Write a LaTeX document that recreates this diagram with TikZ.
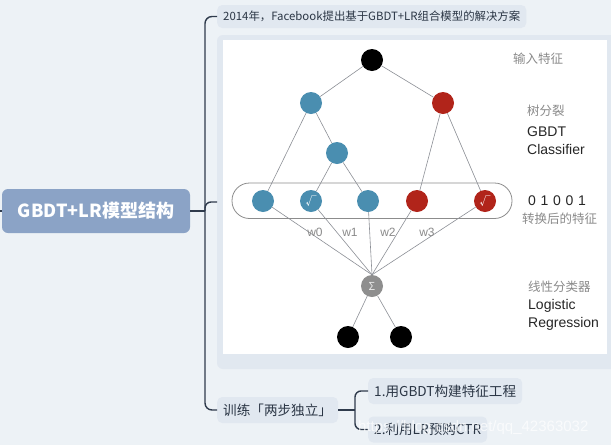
\documentclass[tikz,border=0pt]{standalone}
\usepackage{fontspec}
\setmainfont{Noto Sans CJK SC}
\newfontfamily\helv{Liberation Sans}
\usetikzlibrary{positioning}

\definecolor{mapbg}{HTML}{EDF2F6}
\definecolor{topicbg}{HTML}{E1E8F0}
\definecolor{mainbg}{HTML}{8BA3C6}
\definecolor{linec}{HTML}{2F3B4C}
\definecolor{textc}{HTML}{2B3645}
\definecolor{leafblue}{HTML}{4A8EB0}
\definecolor{leafred}{HTML}{B1241A}
\definecolor{sumgray}{HTML}{8E8E8E}
\definecolor{edgec}{HTML}{8C8F96}
\definecolor{labc}{HTML}{8A8A8A}

\tikzset{
  branch/.style={draw=linec, line width=1.4pt},
  topic/.style={rectangle, rounded corners=5pt, fill=topicbg, text=textc,
    font=\fontsize{13.6}{15}\selectfont, inner xsep=6pt, minimum height=26pt},
  dot/.style={circle, minimum size=22pt, inner sep=0pt, text=white,
    font=\fontsize{11}{12}\selectfont},
  edge/.style={draw=edgec, line width=0.6pt},
  cnlab/.style={text=labc, font=\fontsize{12.5}{14}\selectfont, inner sep=0pt},
  enlab/.style={text=black!85, font=\helv\fontsize{14}{18}\selectfont, inner sep=0pt, align=left},
  wlab/.style={text=labc, font=\helv\fontsize{12}{14}\selectfont, inner sep=0pt}
}

\begin{document}
\begin{tikzpicture}[x=1pt, y=-1pt]
  \useasboundingbox (0,0) rectangle (611,445);
  \fill[mapbg] (0,0) rectangle (611,445);

  %%% CENTRAL TOPIC
  \node[rectangle, rounded corners=6pt, fill=mainbg, text=white, minimum width=188pt,
    minimum height=44pt, font=\bfseries\fontsize{18}{20}\selectfont] (main) at (96,211) {GBDT+LR模型结构};
  \coordinate (stub) at (0,211);
  \coordinate (trunk) at (205,211);

  %%% BRANCHES
  \node[topic, anchor=west, font=\fontsize{11.4}{13}\selectfont, minimum height=23pt] (title) at (217,16.5) {2014年，Facebook提出基于GBDT+LR组合模型的解决方案};
  \fill[topicbg, rounded corners=6pt] (217,35) rectangle (625,369);
  \node[rectangle, fill=white, minimum width=384pt, minimum height=314pt, inner sep=0pt,
    anchor=north west] (panel) at (223,40) {};
  \node[topic, anchor=west] (train) at (217,410) {训练「两步独立」};
  \node[topic, anchor=west] (step1) at (368,391) {1.用GBDT构建特征工程};
  \node[topic, anchor=west] (step2) at (368,429.5) {2.利用LR预购CTR};
  \coordinate (fork) at (355,410);

  \draw[branch] (stub) -- (main.west);
  \draw[branch] (main.east) -- (trunk);
  \draw[branch, rounded corners=7pt] (title.west) -| (trunk) |- (train.west);
  \draw[branch, rounded corners=6pt] (trunk) |- (217,202);
  \draw[branch] (train.east) -- (fork);
  \draw[branch, rounded corners=6pt] (step1.west) -| (fork) |- (step2.west);

  %%% TREE
  \draw[draw=gray!90, line width=0.8pt, rounded corners=17.5pt] (232,183) rectangle (512,218.5);
  \node[dot, fill=black] (root) at (372,60) {};
  \node[dot, fill=leafblue] (sL) at (311,103) {};
  \node[dot, fill=leafred] (sR) at (443,103) {};
  \node[dot, fill=leafblue] (sLL) at (337,153) {};
  \node[dot, fill=leafblue] (f1) at (263,201) {};
  \node[dot, fill=leafblue] (f2) at (311,201) {√};
  \node[dot, fill=leafblue] (f3) at (368,201) {};
  \node[dot, fill=leafred] (f4) at (417,201) {};
  \node[dot, fill=leafred] (f5) at (485,201) {√};
  \node[dot, fill=sumgray, text=white!85!gray] (sum) at (372,286) {Σ};
  \node[dot, fill=black] (o1) at (348,337) {};
  \node[dot, fill=black] (o2) at (401,337) {};

  \draw[edge] (root) -- (sL);
  \draw[edge] (root) -- (sR);
  \draw[edge] (sL) -- (f1);
  \draw[edge] (sL) -- (sLL);
  \draw[edge] (sLL) -- (f2);
  \draw[edge] (sLL) -- (f3);
  \draw[edge] (sR) -- (f4);
  \draw[edge] (sR) -- (f5);
  \draw[edge] (f1) -- (sum.north);
  \draw[edge] (f2) -- (sum.north);
  \draw[edge] (f3) -- (sum.north);
  \draw[edge] (f4) -- (sum.north);
  \draw[edge] (f5) -- (sum.north);
  \draw[edge] (sum) -- (o1);
  \draw[edge] (sum) -- (o2);

  \node[wlab] (w0) at (315,232) {w0};
  \node[wlab] (w1) at (350,232) {w1};
  \node[wlab] (w2) at (388,232) {w2};
  \node[wlab] (w3) at (427,232) {w3};

  %%% LABELS
  \node[cnlab, anchor=west] (inlab) at (513,59) {输入特征};
  \node[cnlab, anchor=west] (splitlab) at (527,111) {树分裂};
  \node[enlab, anchor=west] (gbdtlab) at (527,141) {GBDT\\Classifier};
  \node[enlab, anchor=west] (bits) at (528,201) {0\,\,1\,\,0\,\,0\,\,1};
  \node[cnlab, anchor=west] (newlab) at (522,219) {转换后的特征};
  \node[cnlab, anchor=west] (lrlab) at (528,287) {线性分类器};
  \node[enlab, anchor=west] (lrname) at (528,314.5) {Logistic\\Regression};

  \node[text=white, text opacity=0.7, font=\helv\fontsize{15}{16}\selectfont, inner sep=0pt,
    anchor=west] (mark) at (358,428) {https://blog.csdn.net/qq\_42363032};
\end{tikzpicture}
\end{document}
